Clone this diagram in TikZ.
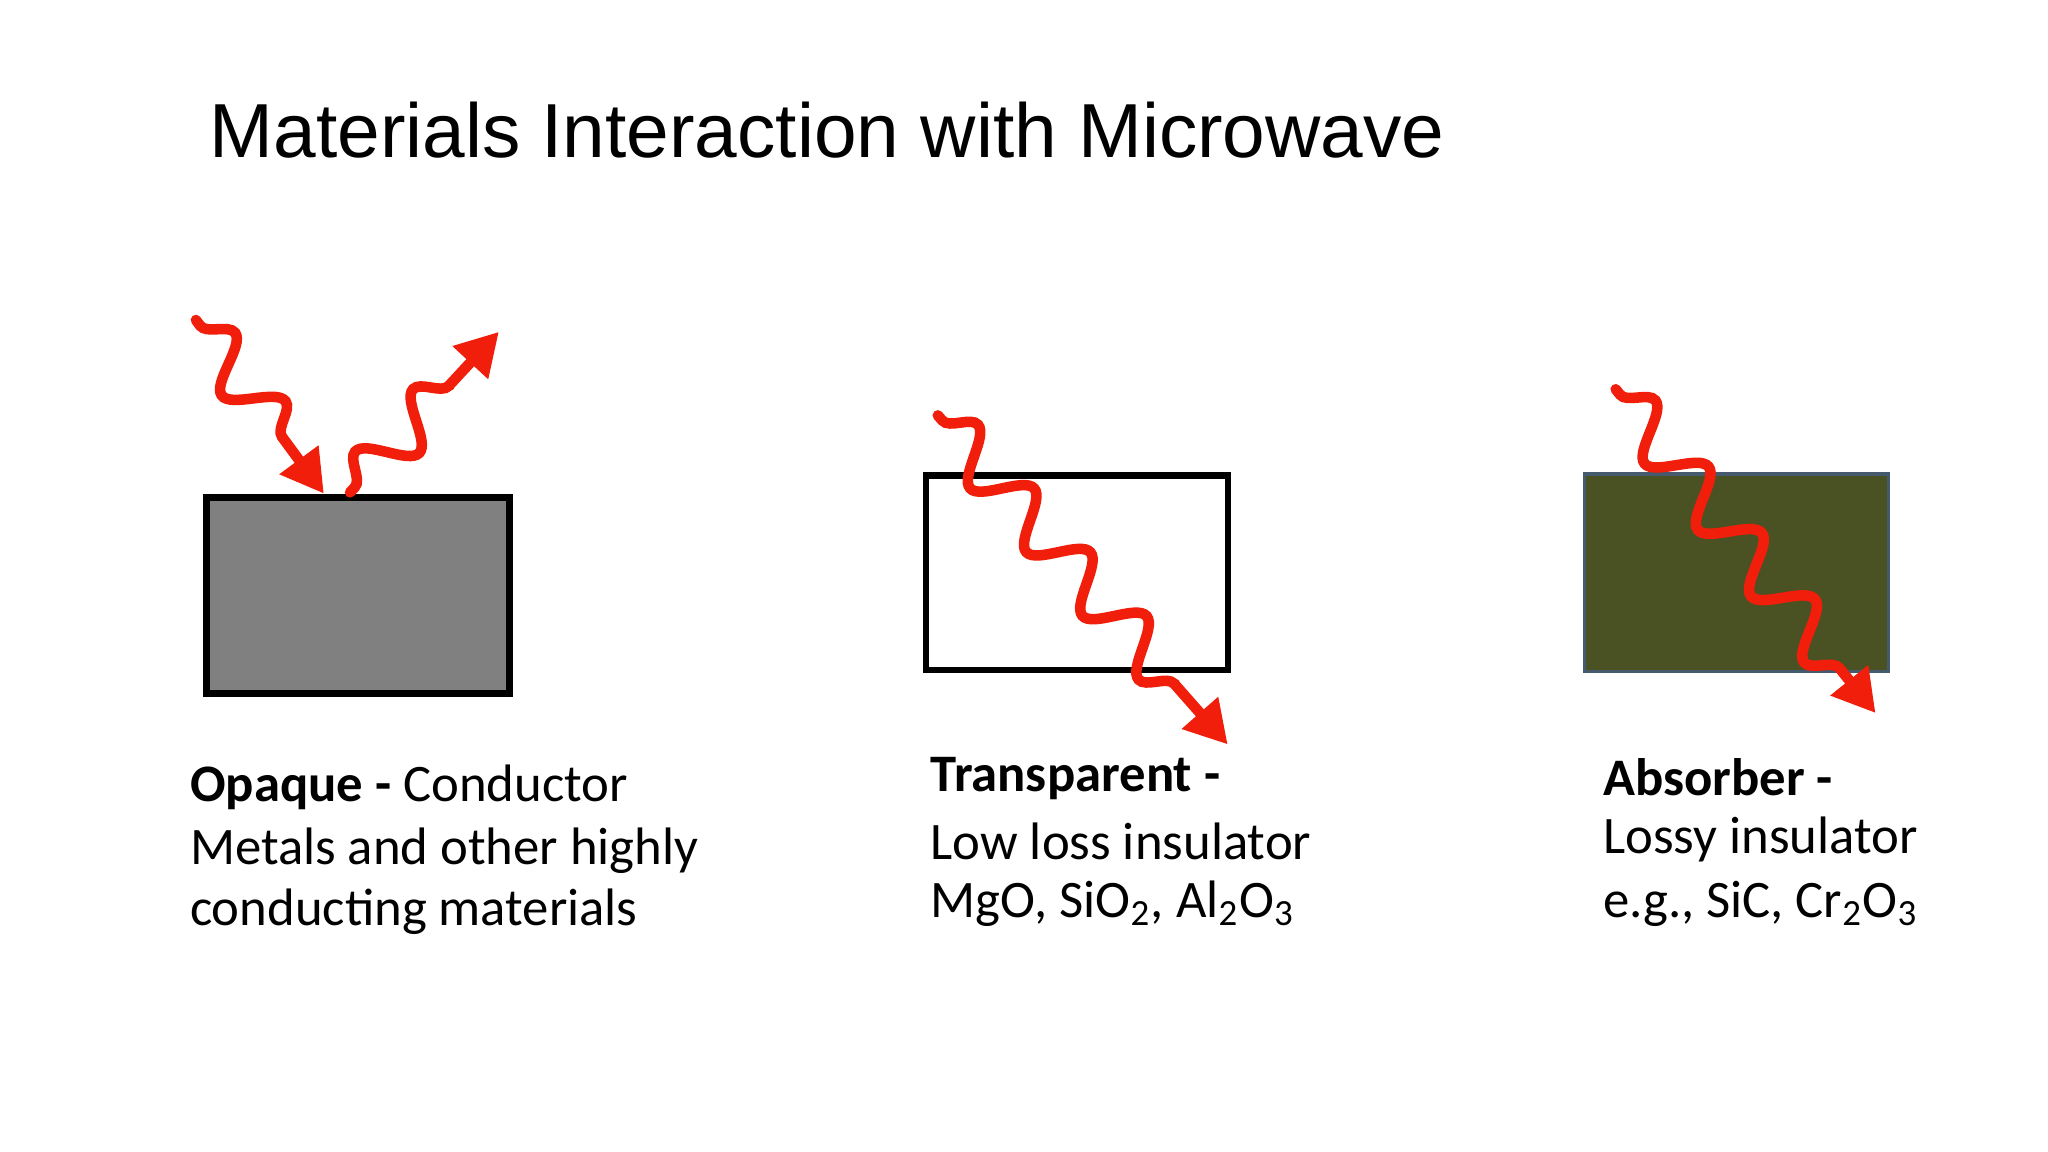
\documentclass[tikz,border=0pt]{standalone}
\usepackage{fontspec}
\setmainfont{Carlito}
\newfontfamily\titlefont{Liberation Sans}
\usetikzlibrary{decorations.pathmorphing,arrows.meta}
\begin{document}
\begin{tikzpicture}[x=0.01306cm,y=-0.01306cm,
  wave/.style={draw={rgb,255:red,240;green,30;blue,10},line width=3pt,
    decorate,decoration={snake,segment length=0.85cm,amplitude=0.24cm,pre length=2pt,post length=12pt},
    -{Triangle[length=12pt,width=13pt]},line cap=round},
  lbl/.style={anchor=west,inner sep=0pt,font=\fontsize{15}{18}\selectfont}]
\useasboundingbox (0,0) rectangle (1568,882);
\node[anchor=west,inner sep=0pt,font=\titlefont\fontsize{21.8}{26}\selectfont] (title) at (160,100) {Materials Interaction with Microwave};
\node[draw=black,line width=1.8pt,fill={rgb,255:red,128;green,128;blue,128},minimum width=232*0.01306cm,minimum height=150*0.01306cm,inner sep=0pt] (b1) at (274,456) {};
\node[draw=black,line width=1.8pt,fill=white,minimum width=231*0.01306cm,minimum height=149*0.01306cm,inner sep=0pt] (b2) at (824.5,438.5) {};
\node[draw={rgb,255:red,70;green,90;blue,110},line width=1pt,fill={rgb,255:red,74;green,82;blue,36},minimum width=233*0.01306cm,minimum height=151*0.01306cm,inner sep=0pt] (b3) at (1329.5,438.5) {};
\coordinate (w1s) at (150,245); \coordinate (w1e) at (248,378);
\coordinate (w2s) at (268,377); \coordinate (w2e) at (382,254);
\coordinate (w3s) at (718,318); \coordinate (w3e) at (940,570);
\coordinate (w4s) at (1237,298); \coordinate (w4e) at (1436,546);
\draw[wave] (w1s) -- (w1e);
\draw[wave] (w2s) -- (w2e);
\draw[wave] (w3s) -- (w3e);
\draw[wave] (w4s) -- (w4e);
\node[lbl] (l1a) at (145,603) {\textbf{Opaque -} Conductor};
\node[lbl] (l1b) at (145,651) {Metals and other highly};
\node[lbl] (l1c) at (145,698) {conducting materials};
\node[lbl] (l2a) at (712,596) {\textbf{Transparent -}};
\node[lbl] (l2b) at (712,644) {Low loss insulator};
\node[lbl] (l2c) at (712,692) {MgO, SiO\textsubscript{2}, Al\textsubscript{2}O\textsubscript{3}};
\node[lbl] (l3a) at (1227,595) {\textbf{Absorber -}};
\node[lbl] (l3b) at (1227,643) {Lossy insulator};
\node[lbl] (l3c) at (1227,692) {e.g., SiC, Cr\textsubscript{2}O\textsubscript{3}};
\end{tikzpicture}
\end{document}
